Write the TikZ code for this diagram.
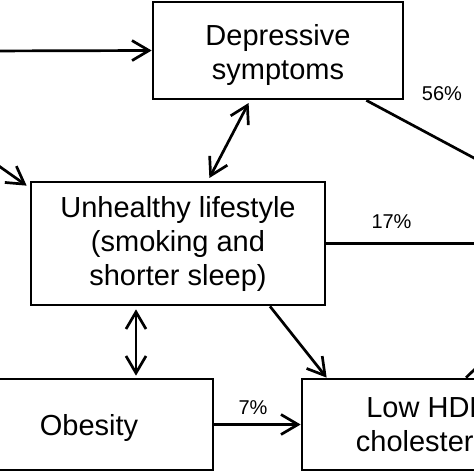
\documentclass[tikz,border=0pt]{standalone}
\usepackage{fontspec}
\setmainfont{Liberation Sans}
\usetikzlibrary{arrows.meta,calc}
\begin{document}
\begin{tikzpicture}[x=1pt,y=-1pt,
  box/.style={draw,line width=2.7pt,inner sep=0pt,align=center,font=\fontsize{29}{34}\selectfont},
  conn/.style={line width=2.7pt},
  arr/.style={conn,-{Straight Barb[length=17pt,width=20pt]}},
  darr/.style={conn,{Straight Barb[length=17pt,width=20pt]}-{Straight Barb[length=17pt,width=20pt]}},
  pct/.style={font=\fontsize{20}{24}\selectfont,inner sep=0pt}]
\clip (0,0) rectangle (474,474);
\node[box,minimum width=250pt,minimum height=97pt] (dep) at (278,50.5) {\rule{0pt}{31pt}Depressive\\symptoms};
\node[box,minimum width=294pt,minimum height=123pt] (unh) at (178,243.5) {Unhealthy lifestyle\\(smoking and\\shorter sleep)};
\node[box,minimum width=248pt,minimum height=91pt] (obe) at (89,424.5) {\rule{0pt}{29pt}Obesity};
\node[box,minimum width=248pt,minimum height=91pt] (hdl) at (426,424.5) {Low HDL\\cholesterol};
\coordinate (inA) at (-20,51);
\coordinate (inB) at (-40,138.5);
\coordinate (outA) at (530,188);
\coordinate (outB) at (530,243.5);
\coordinate (inC) at (500,345);
\draw[arr] (inA) -- (dep.west);
\draw[arr] (inB) -- ($(unh.north west)+(-3,5)$);
\draw[darr,shorten <=3pt,shorten >=3pt] ([xshift=-28pt]dep.south) -- ([xshift=30pt]unh.north);
\draw[conn] ([xshift=-38pt]dep.south east) -- (outA);
\node[pct] (p56) at (442,93.5) {56\%};
\draw[conn] (unh.east) -- (outB) node[pct,pos=0.32,yshift=21.5pt] (p17) {17\%};
\draw[darr,shorten <=3pt,shorten >=2pt] ([xshift=-42pt]unh.south) -- ([xshift=-42pt]unh.south |- obe.north);
\draw[arr] ([xshift=92pt]unh.south) -- ([xshift=26pt]hdl.north west);
\draw[arr] (obe.east) -- (hdl.west) node[pct,midway,xshift=-4.5pt,yshift=16.5pt] (p7) {7\%};
\draw[conn] ([xshift=40pt]hdl.north) -- (inC);
\end{tikzpicture}
\end{document}
